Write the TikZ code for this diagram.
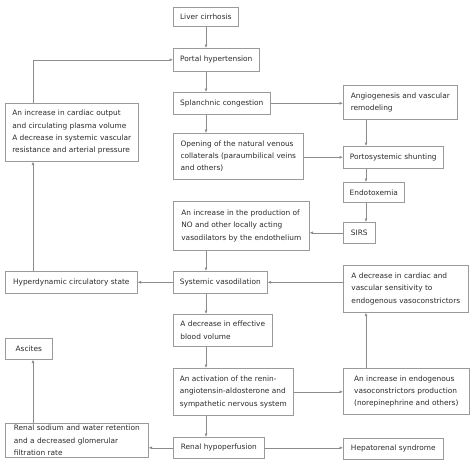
\documentclass[tikz,border=0pt]{standalone}
\usepackage{fontspec}
\setmainfont{DejaVu Sans}
\usetikzlibrary{arrows.meta}
\definecolor{boxc}{HTML}{9A9A9A}
\definecolor{linec}{HTML}{8C8C8C}
\definecolor{txtc}{HTML}{2B2B2B}
\begin{document}
\begin{tikzpicture}[x=1pt,y=-1pt,
  box/.style={draw=boxc,line width=0.6pt,anchor=north west,inner xsep=2pt,inner ysep=0pt,align=left,font=\fontsize{7.4}{12.3}\selectfont,text=txtc},
  arr/.style={draw=linec,line width=0.6pt,-{Latex[length=3.5pt,width=3pt]}}]
\useasboundingbox (0,0) rectangle (474,467);
\node[box,minimum width=65pt,minimum height=19pt] (liver) at (173,7) {Liver cirrhosis};
\node[box,minimum width=86pt,minimum height=23pt] (portal) at (173,48) {Portal hypertension};
\node[box,minimum width=97pt,minimum height=22pt] (splanch) at (173,92) {Splanchnic congestion};
\node[box,minimum width=114pt,minimum height=34pt] (angio) at (343,85) {Angiogenesis and vascular\\remodeling};
\node[box,minimum width=130pt,minimum height=46pt] (opening) at (173,133) {Opening of the natural venous\\collaterals (paraumbilical veins\\and others)};
\node[box,minimum width=100pt,minimum height=22pt] (porto) at (343,146) {Portosystemic shunting};
\node[box,minimum width=61pt,minimum height=20pt] (endo) at (343,182) {Endotoxemia};
\node[box,minimum width=32pt,minimum height=21pt] (sirs) at (343,222) {SIRS};
\node[box,minimum width=136pt,minimum height=49pt] (no) at (173,201) {An increase in the production of\\NO and other locally acting\\vasodilators by the endothelium};
\node[box,minimum width=94pt,minimum height=22pt] (sysvaso) at (173,271) {Systemic vasodilation};
\node[box,minimum width=132pt,minimum height=22pt] (hyper) at (5,271) {Hyperdynamic circulatory state};
\node[box,minimum width=133pt,minimum height=58pt] (cardiac) at (5,103) {An increase in cardiac output\\and circulating plasma volume\\A decrease in systemic vascular\\resistance and arterial pressure};
\node[box,minimum width=125pt,minimum height=47pt] (sens) at (343,265) {A decrease in cardiac and\\vascular sensitivity to\\endogenous vasoconstrictors};
\node[box,minimum width=99pt,minimum height=32pt] (effvol) at (173,314) {A decrease in effective\\blood volume\hphantom{ in effec}};
\node[box,minimum width=47pt,minimum height=21pt] (ascites) at (5,338) {Ascites};
\node[box,minimum width=120pt,minimum height=47pt] (activ) at (173,368) {An activation of the renin-\\angiotensin-aldosterone and\\sympathetic nervous system};
\node[box,minimum width=126pt,minimum height=46pt] (endocons) at (343,368) {An increase in endogenous\\vasoconstrictors production\\(norepinephrine and others)};
\node[box,minimum width=143pt,minimum height=34pt] (renalNa) at (5,423) {Renal sodium and water retention\\and a decreased glomerular\\filtration rate};
\node[box,minimum width=91pt,minimum height=21pt] (renalhypo) at (173,437) {Renal hypoperfusion};
\node[box,minimum width=100pt,minimum height=21pt] (hepato) at (343,438) {Hepatorenal syndrome};
\coordinate (lc) at (206,0);
\coordinate (rc) at (366,0);
\coordinate (fc) at (33,0);
\draw[arr] (liver.south -| lc) -- (portal.north -| lc);
\draw[arr] (portal.south -| lc) -- (splanch.north -| lc);
\draw[arr] (splanch.south -| lc) -- (opening.north -| lc);
\draw[arr] (splanch.east) -- (splanch.east -| angio.west);
\draw[arr] (angio.south -| rc) -- (porto.north -| rc);
\draw[arr] (opening.east |- porto.west) -- (porto.west);
\draw[arr] (porto.south -| rc) -- (endo.north -| rc);
\draw[arr] (endo.south -| rc) -- (sirs.north -| rc);
\draw[arr] (sirs.west) -- (sirs.west -| no.east);
\draw[arr] (no.south -| lc) -- (sysvaso.north -| lc);
\draw[arr] (sysvaso.west) -- (sysvaso.west -| hyper.east);
\draw[arr] (hyper.north -| fc) -- (cardiac.south -| fc);
\draw[arr] (cardiac.north -| fc) |- (portal.west);
\draw[arr] (sens.west |- sysvaso.east) -- (sysvaso.east);
\draw[arr] (sysvaso.south -| lc) -- (effvol.north -| lc);
\draw[arr] (effvol.south -| lc) -- (activ.north -| lc);
\draw[arr] (activ.east) -- (activ.east -| endocons.west);
\draw[arr] (endocons.north -| rc) -- (sens.south -| rc);
\draw[arr] (activ.south -| lc) -- (renalhypo.north -| lc);
\draw[arr] (renalhypo.west) -- (renalhypo.west -| renalNa.east);
\draw[arr] (renalNa.north -| fc) -- (ascites.south -| fc);
\draw[arr] (renalhypo.east) -- (renalhypo.east -| hepato.west);
\end{tikzpicture}
\end{document}
